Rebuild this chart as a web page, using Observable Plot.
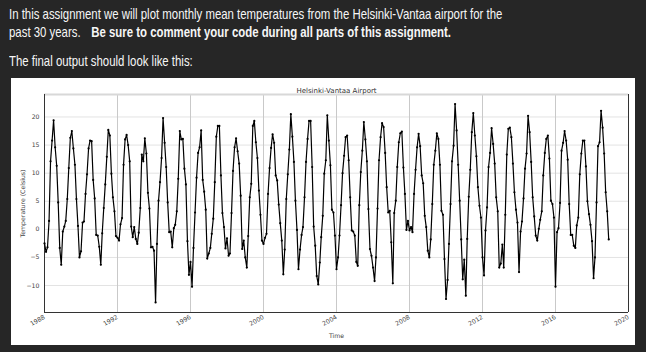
<!DOCTYPE html>
<html><head><meta charset="utf-8">
<script src="https://cdn.jsdelivr.net/npm/d3@7"></script>
<script src="https://cdn.jsdelivr.net/npm/@observablehq/plot@0.6"></script>
<style>
html,body{margin:0;padding:0;background:#262626;width:646px;height:352px;overflow:hidden;}
.t{position:absolute;left:9px;color:#f6f6f6;font-family:"Liberation Sans",Arial,sans-serif;font-size:15px;line-height:15px;white-space:nowrap;transform-origin:0 0;transform:scaleX(0.76);}
.t b{margin-left:14px;}
#panel{position:absolute;left:11px;top:78px;width:624px;height:267px;background:#fff;}
#panel svg{display:block;}
</style></head><body>
<div class="t" style="top:6px">In this assignment we will plot monthly mean temperatures from the Helsinki-Vantaa airport for the</div>
<div class="t" style="top:24px">past 30 years.<b>Be sure to comment your code during all parts of this assignment.</b></div>
<div class="t" style="top:53px">The final output should look like this:</div>
<div id="panel"></div>
<script>
// Monthly mean temperatures (°C), Jan..Dec
const y1988 = [-2.5, -4.0, -3.2, 1.5, 12.1, 15.8, 19.4, 14.6, 11.3, 4.8, -3.3, -6.3];
const y1989 = [-0.4, 0.5, 1.5, 5.4, 10.9, 16.3, 17.5, 14.4, 11.5, 5.4, 0.6, -5.0];
const y1990 = [-3.9, 1.2, 1.4, 6.3, 9.8, 14.4, 15.8, 15.7, 8.8, 5.5, -1.0, -1.1];
const y1991 = [-3.1, -6.3, -0.7, 3.8, 8.0, 12.9, 17.7, 16.7, 9.9, 5.7, 3.2, -1.2];
const y1992 = [-1.5, -2.0, 0.9, 2.0, 11.5, 16.0, 16.8, 15.0, 12.1, 0.5, -1.4, 0.4];
const y1993 = [-1.7, -2.6, -0.6, 3.8, 13.3, 12.1, 16.2, 13.5, 6.5, 3.7, -3.2, -3.1];
const y1994 = [-3.8, -13.0, -2.6, 5.1, 8.4, 12.7, 19.8, 15.4, 11.1, 4.8, -0.5, -0.4];
const y1995 = [-3.2, 0.2, 0.8, 3.2, 9.0, 17.5, 16.0, 16.1, 10.8, 8.0, -2.1, -8.1];
const y1996 = [-5.8, -10.2, -3.3, 3.0, 9.2, 13.6, 14.6, 17.6, 8.8, 6.7, 3.5, -5.2];
const y1997 = [-4.3, -3.3, -0.8, 1.9, 8.4, 16.5, 18.4, 18.4, 9.6, 2.9, 0.4, -3.4];
const y1998 = [-1.6, -4.7, -4.3, 2.9, 10.4, 14.6, 16.2, 13.9, 11.7, 6.0, -3.5, -2.0];
const y1999 = [-5.0, -6.8, -1.2, 5.7, 8.1, 18.4, 19.3, 15.5, 12.7, 6.9, 2.6, -2.0];
const y2000 = [-2.6, -1.5, -0.8, 6.3, 10.9, 14.5, 16.9, 15.4, 9.6, 8.7, 4.4, 1.1];
const y2001 = [-2.0, -8.0, -3.6, 5.4, 9.8, 14.2, 20.5, 16.5, 12.0, 5.1, -0.1, -7.1];
const y2002 = [-3.6, -1.0, 0.4, 5.7, 12.0, 16.1, 19.3, 19.3, 11.1, 0.5, -2.9, -8.3];
const y2003 = [-9.8, -5.9, -1.4, 2.4, 9.9, 12.3, 20.3, 15.8, 11.4, 3.5, 3.0, -1.1];
const y2004 = [-7.1, -5.0, -1.1, 4.3, 10.0, 13.1, 16.4, 16.7, 12.3, 5.7, -0.2, -0.4];
const y2005 = [-1.1, -5.8, -6.5, 4.3, 10.2, 14.0, 19.1, 16.0, 12.1, 3.6, -3.5, -4.7];
const y2006 = [-6.8, -9.2, -5.0, 3.7, 12.3, 16.4, 18.9, 18.2, 13.6, 7.5, 3.0, 3.3];
const y2007 = [-2.3, -9.6, 2.9, 5.1, 11.1, 15.5, 17.1, 17.4, 11.0, 6.3, -0.1, 1.5];
const y2008 = [-0.2, 0.4, -0.5, 6.3, 10.6, 14.6, 17.0, 14.8, 9.6, 8.2, 2.4, 0.4];
const y2009 = [-3.8, -5.0, -1.8, 4.5, 11.5, 14.0, 17.1, 16.1, 11.5, 3.3, 2.6, -5.3];
const y2010 = [-12.4, -9.0, -2.6, 4.5, 12.1, 14.9, 22.3, 17.6, 11.5, 5.1, -1.8, -8.9];
const y2011 = [-5.4, -11.8, -1.7, 5.8, 10.6, 17.3, 20.7, 16.7, 13.0, 7.5, 4.2, 2.1];
const y2012 = [-5.0, -8.2, -0.2, 3.9, 11.1, 13.6, 18.0, 15.2, 11.7, 5.7, 3.2, -6.8];
const y2013 = [-6.1, -2.7, -6.8, 2.6, 13.3, 17.9, 18.1, 16.4, 11.7, 6.6, 3.5, 1.2];
const y2014 = [-7.6, -0.4, 1.4, 5.5, 10.8, 13.5, 20.2, 17.3, 12.0, 5.7, 2.3, -1.1];
const y2015 = [-2.0, 0.1, 1.7, 3.2, 9.6, 13.6, 16.1, 16.7, 12.6, 5.1, 4.5, 2.1];
const y2016 = [-10.2, -0.5, 0.2, 4.7, 14.0, 15.4, 17.5, 15.8, 12.4, 4.5, -1.0, -1.0];
const y2017 = [-2.9, -3.3, 0.7, 2.1, 9.8, 13.5, 15.8, 15.8, 11.2, 5.0, 2.7, 0.8];
const y2018 = [-2.1, -8.7, -5.0, 4.8, 14.8, 15.5, 21.1, 18.1, 13.5, 6.6, 3.2, -1.8];

const startYear = 1988;
const yearTicks = [1988, 1992, 1996, 2000, 2004, 2008, 2012, 2016, 2020];
const tempTicks = [-10, -5, 0, 5, 10, 15, 20];
const titleText = "Helsinki-Vantaa Airport";
const yLabel = "Temperature (Celsius)";
const xLabel = "Time";

const series = [y1988,y1989,y1990,y1991,y1992,y1993,y1994,y1995,y1996,y1997,y1998,y1999,y2000,y2001,y2002,y2003,y2004,y2005,y2006,y2007,y2008,y2009,y2010,y2011,y2012,y2013,y2014,y2015,y2016,y2017,y2018];
const data = [];
series.forEach((vals, yi) => vals.forEach((v, m) => data.push({date: new Date(Date.UTC(startYear + yi, m, 1)), temp: v})));
const xTickDates = yearTicks.map(y => new Date(Date.UTC(y, 0, 1)));
const x0 = xTickDates[0], x1 = xTickDates[xTickDates.length - 1];
const yDom = [-14.8, 24.0];

const chart = Plot.plot({
  width: 624, height: 267,
  marginLeft: 33, marginRight: 7, marginTop: 16, marginBottom: 33,
  style: {fontFamily: "DejaVu Sans", fontSize: "6.2px", color: "#444", background: "#fff", overflow: "visible"},
  x: {type: "utc", domain: [x0, x1]},
  y: {domain: yDom},
  marks: [
    Plot.gridY(tempTicks, {stroke: "#e3e3e3", strokeOpacity: 1, strokeWidth: 1}),
    Plot.gridX(xTickDates, {stroke: "#c9c9c9", strokeOpacity: 1, strokeWidth: 1}),
    Plot.axisY(tempTicks, {tickSize: 0, tickPadding: 5, label: yLabel, labelAnchor: "center", labelArrow: "none", labelOffset: 24}),
    Plot.axisX(xTickDates, {tickSize: 0, tickPadding: 4, tickRotate: -30, tickFormat: d3.utcFormat("%Y"), label: xLabel, labelAnchor: "center", labelArrow: "none", labelOffset: 25}),
    Plot.ruleY([yDom[1]], {stroke: "#d8d8d8", strokeWidth: 2}),
    Plot.ruleY([yDom[0]], {stroke: "#333", strokeWidth: 1}),
    Plot.ruleX([x0, x1], {stroke: "#333", strokeWidth: 1}),
    Plot.line(data, {x: "date", y: "temp", stroke: "#000", strokeWidth: 1.2}),
    Plot.dot(data, {x: "date", y: "temp", r: 1.1, fill: "#000", stroke: "none"}),
    Plot.text([titleText], {frameAnchor: "top", dy: -6, fontSize: 7, fill: "#333"})
  ]
});
document.getElementById("panel").appendChild(chart);
</script>
</body></html>
